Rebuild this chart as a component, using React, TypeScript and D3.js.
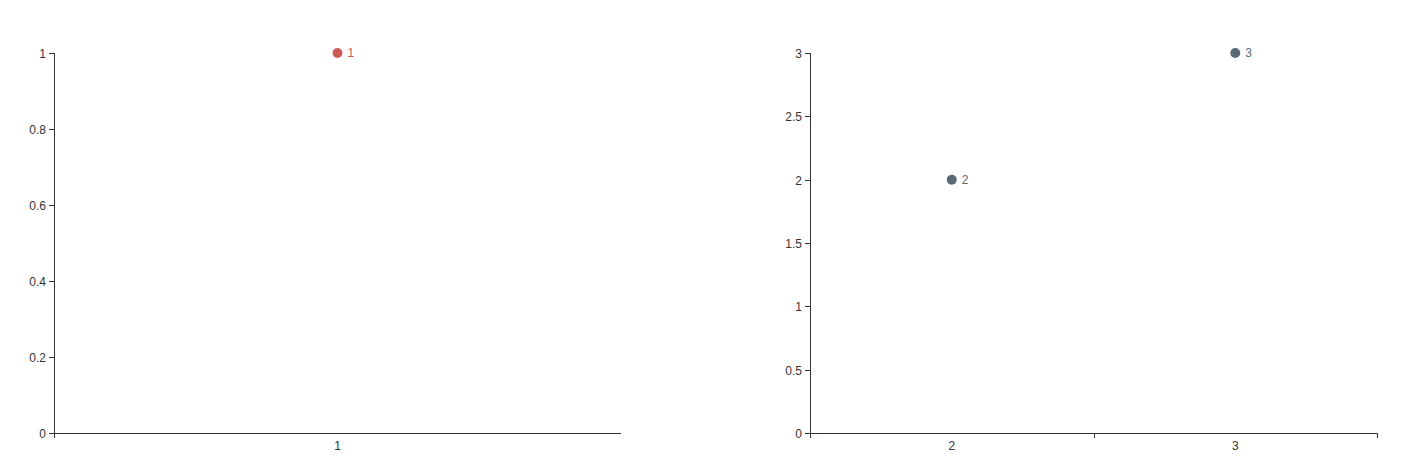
import { useEffect, useRef } from "react";
import * as d3 from "d3";

// left grid data
const leftCategories = ["1"];
const leftValues = [1];
const leftTicks = [0, 0.2, 0.4, 0.6, 0.8, 1];

// right grid data
const rightCategories = ["2", "3"];
const rightValues = [2, 3];
const rightTicks = [0, 0.5, 1, 1.5, 2, 2.5, 3];

const width = 1423;
const height = 464;
const top = 53;
const bottom = 433;
const font = "'Liberation Sans', Arial, sans-serif";

type Panel = {
  cats: string[];
  vals: number[];
  ticks: number[];
  x0: number;
  x1: number;
  color: string;
  endTick: boolean;
};

const panels: Panel[] = [
  { cats: leftCategories, vals: leftValues, ticks: leftTicks, x0: 54, x1: 621, color: "#ce5d5a", endTick: false },
  { cats: rightCategories, vals: rightValues, ticks: rightTicks, x0: 810, x1: 1377, color: "#596a76", endTick: true },
];

const App = () => {
  const svgRef = useRef<SVGSVGElement>(null);

  useEffect(() => {
    document.body.style.margin = "0";
    if (!svgRef.current) return;
    const svg = d3.select(svgRef.current);
    svg.selectAll("*").remove();

    panels.forEach((p) => {
      const x = d3.scaleBand().domain(p.cats).range([p.x0, p.x1]);
      const maxV = p.ticks[p.ticks.length - 1];
      const y = d3.scaleLinear().domain([0, maxV]).range([bottom, top]);
      const g = svg.append("g");

      // y axis
      g.append("line")
        .attr("x1", p.x0 + 0.5).attr("x2", p.x0 + 0.5)
        .attr("y1", top).attr("y2", bottom)
        .attr("stroke", "#333");
      p.ticks.forEach((t) => {
        const yy = Math.round(y(t)) + 0.5;
        g.append("line")
          .attr("x1", p.x0 - 5).attr("x2", p.x0)
          .attr("y1", yy).attr("y2", yy)
          .attr("stroke", "#333");
        g.append("text")
          .attr("x", p.x0 - 8).attr("y", yy)
          .attr("text-anchor", "end")
          .attr("dominant-baseline", "central")
          .attr("font-family", font).attr("font-size", 12)
          .attr("fill", "#333")
          .text(String(t));
      });

      // x axis
      g.append("line")
        .attr("x1", p.x0).attr("x2", p.x1)
        .attr("y1", bottom + 0.5).attr("y2", bottom + 0.5)
        .attr("stroke", "#333");
      const bounds = p.cats.map((c) => x(c)!);
      if (p.endTick) bounds.push(p.x1);
      bounds.forEach((b) => {
        const xx = Math.round(b) + 0.5;
        g.append("line")
          .attr("x1", xx).attr("x2", xx)
          .attr("y1", bottom).attr("y2", bottom + 5)
          .attr("stroke", "#333");
      });
      p.cats.forEach((c) => {
        g.append("text")
          .attr("x", x(c)! + x.bandwidth() / 2)
          .attr("y", bottom + 13)
          .attr("text-anchor", "middle")
          .attr("dominant-baseline", "central")
          .attr("font-family", font).attr("font-size", 12)
          .attr("fill", "#333")
          .text(c);
      });

      // points
      p.cats.forEach((c, i) => {
        const cx = x(c)! + x.bandwidth() / 2;
        const cy = y(p.vals[i]);
        g.append("circle")
          .attr("cx", cx).attr("cy", cy).attr("r", 5)
          .attr("fill", p.color);
        g.append("text")
          .attr("x", cx + 10).attr("y", cy)
          .attr("dominant-baseline", "central")
          .attr("font-family", font).attr("font-size", 12)
          .attr("fill", p.color)
          .text(String(p.vals[i]));
      });
    });
  }, []);

  return <svg ref={svgRef} width={width} height={height} style={{ display: "block", background: "#fff" }}></svg>;
};

export default App;
